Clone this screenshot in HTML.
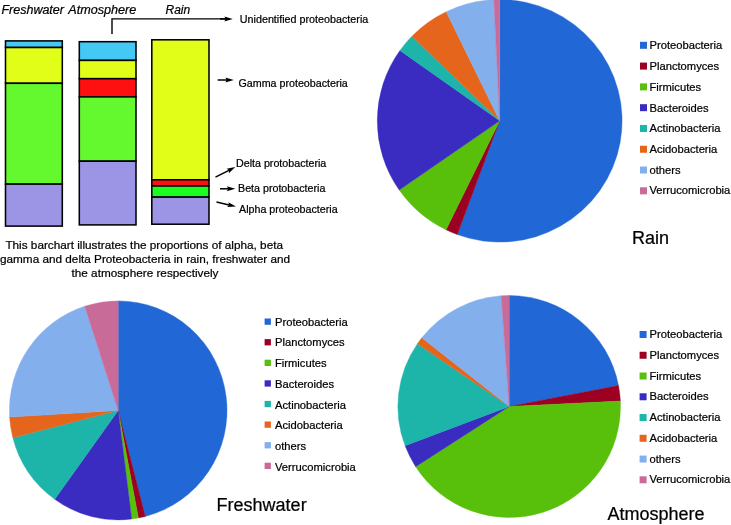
<!DOCTYPE html>
<html><head><meta charset="utf-8"><title>Proteobacteria</title>
<style>html,body{margin:0;padding:0;background:#fff}body{width:731px;height:525px;overflow:hidden}svg{display:block}text{font-family:"Liberation Sans",Arial,Helvetica,sans-serif;fill:#000;stroke:#000;stroke-width:0.22px}</style></head><body>
<svg width="731" height="525" viewBox="0 0 731 525">
<rect width="731" height="525" fill="#fff"/>
<path d="M499.70,120.80 L499.70,-0.50 A122.40,121.30 0 1 1 457.24,234.57 Z" fill="#2168d6" stroke="#2168d6" stroke-width="0.4"/>
<path d="M499.70,120.80 L457.24,234.57 A122.40,121.30 0 0 1 446.04,229.82 Z" fill="#9c0022" stroke="#9c0022" stroke-width="0.4"/>
<path d="M499.70,120.80 L446.04,229.82 A122.40,121.30 0 0 1 399.19,190.03 Z" fill="#58c00a" stroke="#58c00a" stroke-width="0.4"/>
<path d="M499.70,120.80 L399.19,190.03 A122.40,121.30 0 0 1 399.93,50.53 Z" fill="#3a2cc0" stroke="#3a2cc0" stroke-width="0.4"/>
<path d="M499.70,120.80 L399.93,50.53 A122.40,121.30 0 0 1 411.95,36.23 Z" fill="#1db4aa" stroke="#1db4aa" stroke-width="0.4"/>
<path d="M499.70,120.80 L411.95,36.23 A122.40,121.30 0 0 1 446.24,11.68 Z" fill="#e5651d" stroke="#e5651d" stroke-width="0.4"/>
<path d="M499.70,120.80 L446.24,11.68 A122.40,121.30 0 0 1 493.93,-0.37 Z" fill="#83afed" stroke="#83afed" stroke-width="0.4"/>
<path d="M499.70,120.80 L493.93,-0.37 A122.40,121.30 0 0 1 499.70,-0.50 Z" fill="#c96b99" stroke="#c96b99" stroke-width="0.4"/>
<rect x="640.00" y="41.80" width="7" height="7" fill="#2168d6"/>
<text x="649.50" y="49.40" font-size="11.2">Proteobacteria</text>
<rect x="640.00" y="62.59" width="7" height="7" fill="#9c0022"/>
<text x="649.50" y="70.10" font-size="11.2">Planctomyces</text>
<rect x="640.00" y="83.38" width="7" height="7" fill="#58c00a"/>
<text x="649.50" y="90.80" font-size="11.2">Firmicutes</text>
<rect x="640.00" y="104.17" width="7" height="7" fill="#3a2cc0"/>
<text x="649.50" y="111.50" font-size="11.2">Bacteroides</text>
<rect x="640.00" y="124.96" width="7" height="7" fill="#1db4aa"/>
<text x="649.50" y="132.20" font-size="11.2">Actinobacteria</text>
<rect x="640.00" y="145.75" width="7" height="7" fill="#e5651d"/>
<text x="649.50" y="152.90" font-size="11.2">Acidobacteria</text>
<rect x="640.00" y="166.54" width="7" height="7" fill="#83afed"/>
<text x="649.50" y="173.60" font-size="11.2">others</text>
<rect x="640.00" y="187.33" width="7" height="7" fill="#c96b99"/>
<text x="649.50" y="194.30" font-size="11.2">Verrucomicrobia</text>
<text x="632" y="243.5" font-size="18">Rain</text>
<path d="M118.20,410.40 L118.20,300.90 A108.80,109.50 0 0 1 145.26,516.46 Z" fill="#2168d6" stroke="#2168d6" stroke-width="0.4"/>
<path d="M118.20,410.40 L145.26,516.46 A108.80,109.50 0 0 1 138.40,518.00 Z" fill="#9c0022" stroke="#9c0022" stroke-width="0.4"/>
<path d="M118.20,410.40 L138.40,518.00 A108.80,109.50 0 0 1 131.65,519.06 Z" fill="#58c00a" stroke="#58c00a" stroke-width="0.4"/>
<path d="M118.20,410.40 L131.65,519.06 A108.80,109.50 0 0 1 54.71,499.32 Z" fill="#3a2cc0" stroke="#3a2cc0" stroke-width="0.4"/>
<path d="M118.20,410.40 L54.71,499.32 A108.80,109.50 0 0 1 12.87,437.82 Z" fill="#1db4aa" stroke="#1db4aa" stroke-width="0.4"/>
<path d="M118.20,410.40 L12.87,437.82 A108.80,109.50 0 0 1 9.60,417.08 Z" fill="#e5651d" stroke="#e5651d" stroke-width="0.4"/>
<path d="M118.20,410.40 L9.60,417.08 A108.80,109.50 0 0 1 84.76,306.20 Z" fill="#83afed" stroke="#83afed" stroke-width="0.4"/>
<path d="M118.20,410.40 L84.76,306.20 A108.80,109.50 0 0 1 118.20,300.90 Z" fill="#c96b99" stroke="#c96b99" stroke-width="0.4"/>
<rect x="264.60" y="318.50" width="6.3" height="6.3" fill="#2168d6"/>
<text x="275.00" y="325.80" font-size="11.2">Proteobacteria</text>
<rect x="264.60" y="339.10" width="6.3" height="6.3" fill="#9c0022"/>
<text x="275.00" y="346.48" font-size="11.2">Planctomyces</text>
<rect x="264.60" y="359.70" width="6.3" height="6.3" fill="#58c00a"/>
<text x="275.00" y="367.16" font-size="11.2">Firmicutes</text>
<rect x="264.60" y="380.30" width="6.3" height="6.3" fill="#3a2cc0"/>
<text x="275.00" y="387.84" font-size="11.2">Bacteroides</text>
<rect x="264.60" y="400.90" width="6.3" height="6.3" fill="#1db4aa"/>
<text x="275.00" y="408.52" font-size="11.2">Actinobacteria</text>
<rect x="264.60" y="421.50" width="6.3" height="6.3" fill="#e5651d"/>
<text x="275.00" y="429.20" font-size="11.2">Acidobacteria</text>
<rect x="264.60" y="442.10" width="6.3" height="6.3" fill="#83afed"/>
<text x="275.00" y="449.88" font-size="11.2">others</text>
<rect x="264.60" y="462.70" width="6.3" height="6.3" fill="#c96b99"/>
<text x="275.00" y="470.56" font-size="11.2">Verrucomicrobia</text>
<text x="216.6" y="511.1" font-size="18">Freshwater</text>
<path d="M509.20,406.50 L509.20,295.50 A111.30,111.00 0 0 1 618.49,385.51 Z" fill="#2168d6" stroke="#2168d6" stroke-width="0.4"/>
<path d="M509.20,406.50 L618.49,385.51 A111.30,111.00 0 0 1 620.37,401.08 Z" fill="#9c0022" stroke="#9c0022" stroke-width="0.4"/>
<path d="M509.20,406.50 L620.37,401.08 A111.30,111.00 0 0 1 415.64,466.63 Z" fill="#58c00a" stroke="#58c00a" stroke-width="0.4"/>
<path d="M509.20,406.50 L415.64,466.63 A111.30,111.00 0 0 1 405.09,445.74 Z" fill="#3a2cc0" stroke="#3a2cc0" stroke-width="0.4"/>
<path d="M509.20,406.50 L405.09,445.74 A111.30,111.00 0 0 1 417.47,343.63 Z" fill="#1db4aa" stroke="#1db4aa" stroke-width="0.4"/>
<path d="M509.20,406.50 L417.47,343.63 A111.30,111.00 0 0 1 421.85,337.70 Z" fill="#e5651d" stroke="#e5651d" stroke-width="0.4"/>
<path d="M509.20,406.50 L421.85,337.70 A111.30,111.00 0 0 1 501.24,295.78 Z" fill="#83afed" stroke="#83afed" stroke-width="0.4"/>
<path d="M509.20,406.50 L501.24,295.78 A111.30,111.00 0 0 1 509.20,295.50 Z" fill="#c96b99" stroke="#c96b99" stroke-width="0.4"/>
<rect x="639.60" y="331.00" width="7" height="7" fill="#2168d6"/>
<text x="649.50" y="338.10" font-size="11.2">Proteobacteria</text>
<rect x="639.60" y="351.76" width="7" height="7" fill="#9c0022"/>
<text x="649.50" y="358.86" font-size="11.2">Planctomyces</text>
<rect x="639.60" y="372.52" width="7" height="7" fill="#58c00a"/>
<text x="649.50" y="379.62" font-size="11.2">Firmicutes</text>
<rect x="639.60" y="393.28" width="7" height="7" fill="#3a2cc0"/>
<text x="649.50" y="400.38" font-size="11.2">Bacteroides</text>
<rect x="639.60" y="414.04" width="7" height="7" fill="#1db4aa"/>
<text x="649.50" y="421.14" font-size="11.2">Actinobacteria</text>
<rect x="639.60" y="434.80" width="7" height="7" fill="#e5651d"/>
<text x="649.50" y="441.90" font-size="11.2">Acidobacteria</text>
<rect x="639.60" y="455.56" width="7" height="7" fill="#83afed"/>
<text x="649.50" y="462.66" font-size="11.2">others</text>
<rect x="639.60" y="476.32" width="7" height="7" fill="#c96b99"/>
<text x="649.50" y="483.42" font-size="11.2">Verrucomicrobia</text>
<text x="607.5" y="520.1" font-size="18">Atmosphere</text>
<rect x="5.5" y="40.9" width="56.8" height="6.600000000000001" fill="#44c8f4" stroke="#000" stroke-width="1.55"/>
<rect x="5.5" y="47.5" width="56.8" height="35.8" fill="#e1fe18" stroke="#000" stroke-width="1.55"/>
<rect x="5.5" y="83.3" width="56.8" height="100.8" fill="#64f82e" stroke="#000" stroke-width="1.55"/>
<rect x="5.5" y="184.1" width="56.8" height="42.0" fill="#9c95e6" stroke="#000" stroke-width="1.55"/>
<rect x="79.3" y="41.7" width="56.7" height="18.699999999999996" fill="#44c8f4" stroke="#000" stroke-width="1.55"/>
<rect x="79.3" y="60.4" width="56.7" height="18.300000000000004" fill="#e1fe18" stroke="#000" stroke-width="1.55"/>
<rect x="79.3" y="78.7" width="56.7" height="18.200000000000003" fill="#ff1010" stroke="#000" stroke-width="1.55"/>
<rect x="79.3" y="96.9" width="56.7" height="64.29999999999998" fill="#64f82e" stroke="#000" stroke-width="1.55"/>
<rect x="79.3" y="161.2" width="56.7" height="63.70000000000002" fill="#9c95e6" stroke="#000" stroke-width="1.55"/>
<rect x="151.8" y="39.8" width="57.19999999999999" height="140.0" fill="#e1fe18" stroke="#000" stroke-width="1.55"/>
<rect x="151.8" y="179.8" width="57.19999999999999" height="6.199999999999989" fill="#ff1010" stroke="#000" stroke-width="1.55"/>
<rect x="151.8" y="186" width="57.19999999999999" height="11.099999999999994" fill="#1cfc22" stroke="#000" stroke-width="1.55"/>
<rect x="151.8" y="197.1" width="57.19999999999999" height="27.099999999999994" fill="#9c95e6" stroke="#000" stroke-width="1.55"/>
<text x="1.4" y="13.7" font-size="12" font-style="italic" textLength="62.6" lengthAdjust="spacingAndGlyphs">Freshwater</text>
<text x="68.3" y="13.7" font-size="12" font-style="italic" textLength="68" lengthAdjust="spacingAndGlyphs">Atmosphere</text>
<text x="165.5" y="13.7" font-size="12" font-style="italic">Rain</text>
<polyline points="112,34 112,18.9 226,18.9" fill="none" stroke="#000" stroke-width="1.4"/>
<line x1="220.00" y1="18.90" x2="226.80" y2="18.90" stroke="#000" stroke-width="1.5"/>
<polygon points="232.80,18.90 224.30,21.40 225.80,18.90 224.30,16.40" fill="#000"/>
<line x1="217.70" y1="80.00" x2="227.80" y2="80.00" stroke="#000" stroke-width="1.5"/>
<polygon points="233.80,80.00 225.30,82.50 226.80,80.00 225.30,77.50" fill="#000"/>
<line x1="215.50" y1="177.20" x2="229.96" y2="169.83" stroke="#000" stroke-width="1.5"/>
<polygon points="235.30,167.10 228.86,173.19 229.06,170.28 226.59,168.74" fill="#000"/>
<line x1="220.00" y1="188.80" x2="229.30" y2="188.80" stroke="#000" stroke-width="1.5"/>
<polygon points="235.30,188.80 226.80,191.30 228.30,188.80 226.80,186.30" fill="#000"/>
<line x1="216.50" y1="202.00" x2="230.15" y2="205.15" stroke="#000" stroke-width="1.5"/>
<polygon points="236.00,206.50 227.16,207.02 229.18,204.93 228.28,202.15" fill="#000"/>
<text x="239.8" y="23.3" font-size="10.75">Unidentified proteobacteria</text>
<text x="238.5" y="86.9" font-size="10.7">Gamma proteobacteria</text>
<text x="236" y="166.9" font-size="10.7">Delta protobacteria</text>
<text x="238" y="192" font-size="10.7">Beta protobacteria</text>
<text x="239" y="213.4" font-size="10.7">Alpha proteobacteria</text>
<text x="144.2" y="248.9" font-size="11.75" text-anchor="middle">This barchart illustrates the proportions of alpha, beta</text>
<text x="145" y="262.7" font-size="11.75" text-anchor="middle">gamma and delta Proteobacteria in rain, freshwater and</text>
<text x="145" y="276.6" font-size="11.75" text-anchor="middle">the atmosphere respectively</text>
</svg></body></html>
